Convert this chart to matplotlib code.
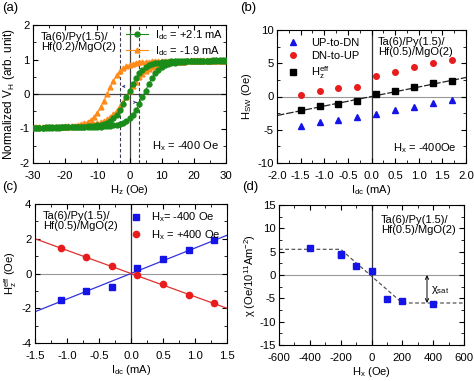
import matplotlib
matplotlib.use("Agg")
import matplotlib.pyplot as plt
import numpy as np
from matplotlib.ticker import MultipleLocator, FormatStrFormatter

plt.rcParams['font.family'] = ['Liberation Sans', 'DejaVu Sans']
plt.rcParams['mathtext.fontset'] = 'custom'
plt.rcParams['mathtext.rm'] = 'Liberation Sans'
plt.rcParams['mathtext.it'] = 'Liberation Sans:italic'
plt.rcParams['axes.unicode_minus'] = False
plt.rcParams['font.size'] = 8

# ---- (a) hysteresis loops, Hx = -400 Oe ----
hz = np.arange(-30, 31)
green_up = [-0.975, -0.975, -0.975, -0.975, -0.975, -0.974, -0.974, -0.973, -0.972, -0.971,
            -0.970, -0.969, -0.968, -0.967, -0.966, -0.964, -0.962, -0.959, -0.956, -0.953,
            -0.948, -0.943, -0.938, -0.930, -0.920, -0.910, -0.890, -0.865, -0.830, -0.780,
            -0.705, -0.605, -0.465, -0.290, -0.100, 0.100, 0.290, 0.465, 0.605, 0.705,
            0.780, 0.830, 0.865, 0.890, 0.910, 0.920, 0.930, 0.938, 0.943, 0.948,
            0.953, 0.956, 0.959, 0.962, 0.964, 0.966, 0.967, 0.968, 0.969, 0.970, 0.971]
green_dn = [-0.974, -0.974, -0.973, -0.972, -0.971, -0.970, -0.969, -0.968, -0.967, -0.966,
            -0.964, -0.962, -0.959, -0.956, -0.953, -0.948, -0.943, -0.938, -0.930, -0.920,
            -0.910, -0.890, -0.865, -0.830, -0.780, -0.705, -0.605, -0.465, -0.290, -0.100,
            0.100, 0.290, 0.465, 0.605, 0.705, 0.780, 0.830, 0.865, 0.890, 0.910,
            0.920, 0.930, 0.938, 0.943, 0.948, 0.953, 0.956, 0.959, 0.962, 0.964,
            0.966, 0.967, 0.968, 0.969, 0.970, 0.971, 0.972, 0.973, 0.974, 0.974, 0.975]
orange_dn = [-0.969, -0.968, -0.967, -0.965, -0.963, -0.960, -0.958, -0.955, -0.950, -0.945,
             -0.940, -0.935, -0.925, -0.915, -0.900, -0.880, -0.850, -0.805, -0.745, -0.660,
             -0.540, -0.380, -0.200, 0.000, 0.200, 0.380, 0.540, 0.660, 0.745, 0.805,
             0.850, 0.880, 0.900, 0.915, 0.925, 0.935, 0.940, 0.945, 0.950, 0.955,
             0.958, 0.960, 0.963, 0.965, 0.967, 0.968, 0.969, 0.970, 0.971, 0.972,
             0.973, 0.974, 0.975, 0.975, 0.975, 0.975, 0.975, 0.975, 0.975, 0.975, 0.975]
orange_up = [-0.968, -0.967, -0.966, -0.965, -0.963, -0.961, -0.959, -0.958, -0.955, -0.952,
             -0.948, -0.945, -0.940, -0.937, -0.931, -0.924, -0.916, -0.908, -0.892, -0.877,
             -0.853, -0.825, -0.785, -0.737, -0.670, -0.592, -0.480, -0.362, -0.220, -0.075,
             0.075, 0.220, 0.362, 0.480, 0.592, 0.670, 0.737, 0.785, 0.825, 0.853,
             0.877, 0.892, 0.908, 0.916, 0.924, 0.931, 0.937, 0.940, 0.945, 0.948,
             0.952, 0.955, 0.958, 0.959, 0.961, 0.963, 0.965, 0.966, 0.967, 0.968, 0.969]
switch_marks = [-3.0, 2.8]

# ---- (b) switching fields vs current ----
idc_b = [-1.5, -1.1, -0.7, -0.3, 0.1, 0.5, 0.9, 1.3, 1.7]
up_to_dn = [-4.4, -3.8, -3.6, -3.1, -2.6, -2.1, -1.6, -1.05, -0.55]
dn_to_up = [0.3, 0.8, 1.3, 1.5, 3.15, 3.7, 4.45, 5.1, 5.45]
hz_eff_b = [-2.05, -1.5, -1.1, -0.75, 0.35, 0.8, 1.4, 2.0, 2.4]
fit_b_x = [-2.0, 2.0]
fit_b_y = [-2.86, 2.86]

# ---- (c) Hz_eff vs current for +/- Hx ----
idc_c = [-1.1, -0.7, -0.3, 0.1, 0.5, 0.9, 1.3]
heff_neg = [-1.5, -1.0, -0.77, 0.33, 0.82, 1.36, 1.95]
heff_pos = [1.44, 0.94, 0.44, -0.08, -0.59, -1.22, -1.7]
fit_c_x = [-1.5, 1.5]
fit_neg_y = [-2.2, 2.2]
fit_pos_y = [2.0, -2.0]

# ---- (d) chi vs Hx ----
hx_d = [-400, -200, -200, -100, 0, 100, 200, 400]
chi_d = [5.8, 4.6, 4.2, 1.9, 0.8, -5.1, -5.6, -6.3]
guide_x = [-600, -200, 200, 600]
guide_y = [5.5, 5.5, -6.0, -6.0]

GREEN = '#1a8c1a'
ORANGE = '#ff8c1a'
BLUE = '#1414e6'
RED = '#e81c1c'

fig = plt.figure(figsize=(4.74, 3.81), dpi=100)
W, H = 474.0, 381.0


def add_ax(l, t, r, b):
    return fig.add_axes([l / W, 1 - b / H, (r - l) / W, (b - t) / H])


def style(ax):
    ax.tick_params(which='both', direction='in', top=True, right=True, labelsize=8.2)
    ax.tick_params(axis='x', pad=6)
    ax.tick_params(axis='y', pad=2.5)
    ax.tick_params(which='major', length=3.5, width=0.8)
    ax.tick_params(which='minor', length=2, width=0.6)
    for s in ax.spines.values():
        s.set_linewidth(0.8)


ax_a = add_ax(33, 25, 226, 163)
ax_b = add_ax(277, 30, 466, 163)
ax_c = add_ax(35, 204, 227, 343)
ax_d = add_ax(279, 205, 464, 345)

# (a)
ax = ax_a
ax.axhline(0, color='#444444', lw=0.9, zorder=1)
ax.axvline(0, color='#444444', lw=0.9, zorder=1)
for xm in switch_marks:
    ax.axvline(xm, color='#3a3a50', lw=0.8, ls=(0, (3, 2)), zorder=1)
ax.plot(hz, orange_dn, color=ORANGE, marker='^', ms=3.5, lw=0.8, zorder=2)
ax.plot(hz, orange_up, color=ORANGE, marker='^', ms=3.5, lw=0.8, zorder=2,
        label=r'I$_{\rm dc}$ = -1.9 mA')
ax.plot(hz, green_dn, color=GREEN, marker='o', ms=3.5, lw=0.8, zorder=3)
ax.plot(hz, green_up, color=GREEN, marker='o', ms=3.5, lw=0.8, zorder=3,
        label=r'I$_{\rm dc}$ = +2.1 mA')
ax.annotate('', xy=(-2.4, 0.22), xytext=(-0.7, 0.22),
            arrowprops=dict(arrowstyle='->', color='#223366', lw=0.6, mutation_scale=4))
ax.annotate('', xy=(2.2, -0.24), xytext=(1.2, -0.24),
            arrowprops=dict(arrowstyle='->', color='#223366', lw=0.6, mutation_scale=4))
h, l = ax.get_legend_handles_labels()
ax.legend(h[::-1], l[::-1], loc='upper right', frameon=False, fontsize=8,
          handlelength=2.0, handletextpad=0.6, borderaxespad=0.1, labelspacing=0.15,
          borderpad=0.2)
ax.text(0.04, 0.95, 'Ta(6)/Py(1.5)/\nHf(0.2)/MgO(2)', transform=ax.transAxes,
        va='top', ha='left', linespacing=1.05)
ax.text(0.96, 0.07, r'H$_{\rm x}$ = -400 Oe', transform=ax.transAxes, ha='right', va='bottom')
ax.set_xlim(-30, 30)
ax.set_ylim(-2, 2)
ax.xaxis.set_major_locator(MultipleLocator(10))
ax.xaxis.set_minor_locator(MultipleLocator(5))
ax.yaxis.set_major_locator(MultipleLocator(1))
ax.yaxis.set_minor_locator(MultipleLocator(0.5))
ax.set_xlabel(r'H$_{\rm z}$ (Oe)', labelpad=1)
ax.set_ylabel(r'Normalized V$_{\rm H}$ (arb. unit)', labelpad=2, fontsize=8.5)
style(ax)

# (b)
ax = ax_b
ax.axhline(0, color='#999999', lw=0.8, zorder=1)
ax.axvline(0, color='#333333', lw=0.9, zorder=1)
ax.plot(fit_b_x, fit_b_y, color='#222222', lw=0.9, ls=(0, (6, 1.5)), zorder=2)
ax.plot(idc_b, up_to_dn, ls='none', marker='^', ms=4, color=BLUE, label='UP-to-DN', zorder=3)
ax.plot(idc_b, dn_to_up, ls='none', marker='o', ms=4, color=RED, label='DN-to-UP', zorder=3)
ax.plot(idc_b, hz_eff_b, ls='none', marker='s', ms=3.8, color='black',
        label=r'H$_{\rm z}^{\rm eff}$', zorder=3)
ax.legend(loc='upper left', frameon=False, fontsize=8, handlelength=1.5,
          handletextpad=0.9, borderaxespad=0.2, labelspacing=0.3, borderpad=0.5)
ax.text(0.535, 0.95, 'Ta(6)/Py(1.5)/\nHf(0.5)/MgO(2)', transform=ax.transAxes,
        va='top', ha='left', linespacing=1.05)
ax.text(0.95, 0.06, r'H$_{\rm x}$ = -400Oe', transform=ax.transAxes, ha='right', va='bottom')
ax.set_xlim(-2, 2)
ax.set_ylim(-10, 10)
ax.xaxis.set_major_locator(MultipleLocator(0.5))
ax.xaxis.set_minor_locator(MultipleLocator(0.25))
ax.yaxis.set_major_locator(MultipleLocator(5))
ax.yaxis.set_minor_locator(MultipleLocator(2.5))
ax.xaxis.set_major_formatter(FormatStrFormatter('%.1f'))
ax.set_xlabel(r'I$_{\rm dc}$ (mA)', labelpad=1)
ax.set_ylabel(r'H$_{\rm SW}$ (Oe)', labelpad=2)
style(ax)

# (c)
ax = ax_c
ax.axhline(0, color='#999999', lw=0.8, zorder=1)
ax.axvline(0, color='#333333', lw=0.9, zorder=1)
ax.plot(fit_c_x, fit_neg_y, color='#3333dd', lw=0.9, zorder=2)
ax.plot(fit_c_x, fit_pos_y, color='#e03030', lw=0.9, zorder=2)
ax.plot(idc_c, heff_neg, ls='none', marker='s', ms=4, color=BLUE,
        label=r'H$_{\rm x}$= -400 Oe', zorder=3)
ax.plot(idc_c, heff_pos, ls='none', marker='o', ms=4.5, color=RED,
        label=r'H$_{\rm x}$ = +400 Oe', zorder=3)
ax.legend(loc='upper right', frameon=False, fontsize=8, handlelength=1.0,
          handletextpad=0.8, borderaxespad=0.2, labelspacing=0.3)
ax.text(0.04, 0.95, 'Ta(6)/Py(1.5)/\nHf(0.5)/MgO(2)', transform=ax.transAxes,
        va='top', ha='left', linespacing=1.05)
ax.set_xlim(-1.5, 1.5)
ax.set_ylim(-4, 4)
ax.xaxis.set_major_locator(MultipleLocator(0.5))
ax.xaxis.set_minor_locator(MultipleLocator(0.25))
ax.yaxis.set_major_locator(MultipleLocator(2))
ax.yaxis.set_minor_locator(MultipleLocator(1))
ax.xaxis.set_major_formatter(FormatStrFormatter('%.1f'))
ax.set_xlabel(r'I$_{\rm dc}$ (mA)', labelpad=1)
ax.set_ylabel(r'H$_{\rm z}^{\rm eff}$ (Oe)', labelpad=2)
style(ax)

# (d)
ax = ax_d
ax.axhline(0, color='#999999', lw=0.8, zorder=1)
ax.axvline(0, color='#333333', lw=0.9, zorder=1)
ax.plot(guide_x, guide_y, color='#555555', lw=0.9, ls=(0, (3, 2)), zorder=2)
ax.plot(hx_d, chi_d, ls='none', marker='s', ms=4.5, color=BLUE, zorder=3)
ax.annotate('', xy=(360, 0), xytext=(360, -6.0),
            arrowprops=dict(arrowstyle='<->', color='black', lw=0.7, mutation_scale=6,
                            shrinkA=0, shrinkB=0))
ax.text(385, -3.3, r'χ$_{\rm sat}$', ha='left', va='center')
ax.text(0.55, 0.93, 'Ta(6)/Py(1.5)/\nHf(0.5)/MgO(2)', transform=ax.transAxes,
        va='top', ha='left', linespacing=1.05)
ax.set_xlim(-600, 600)
ax.set_ylim(-15, 15)
ax.xaxis.set_major_locator(MultipleLocator(200))
ax.xaxis.set_minor_locator(MultipleLocator(100))
ax.yaxis.set_major_locator(MultipleLocator(5))
ax.yaxis.set_minor_locator(MultipleLocator(2.5))
ax.set_xlabel(r'H$_{\rm x}$ (Oe)', labelpad=1)
ax.set_ylabel(r'χ (Oe/10$^{11}$Am$^{-2}$)', labelpad=1)
style(ax)

for lbl, x, y in [('(a)', 2, 2), ('(b)', 240, 2), ('(c)', 2, 181), ('(d)', 242, 181)]:
    fig.text(x / W, 1 - y / H, lbl, ha='left', va='top', fontsize=9.5)

fig.savefig('out.png', dpi=100)
